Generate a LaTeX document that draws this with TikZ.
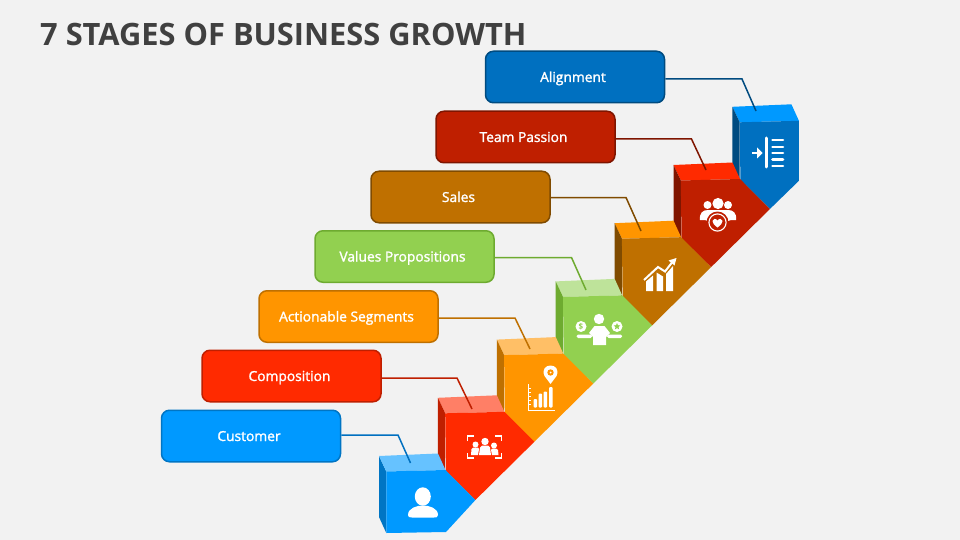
\documentclass[tikz,border=0pt]{standalone}
\usepackage{fontspec}
\setmainfont{Open Sans}
\newfontfamily\labelfont[FakeBold=1.6]{Open Sans}
\usetikzlibrary{shapes.geometric}
\definecolor{bgc}{HTML}{F2F2F2}
\definecolor{titlec}{HTML}{404040}
\definecolor{fa}{HTML}{0099FF}\definecolor{ta}{HTML}{66C2FF}\definecolor{sa}{HTML}{0075C4}
\definecolor{fb}{HTML}{FF2A00}\definecolor{tb}{HTML}{FF7F66}\definecolor{sb}{HTML}{BF1F00}
\definecolor{fc}{HTML}{FF9500}\definecolor{tc}{HTML}{FFBF66}\definecolor{sc}{HTML}{BF7000}
\definecolor{fd}{HTML}{92D050}\definecolor{td}{HTML}{BEE39A}\definecolor{sd}{HTML}{6EAB30}
\definecolor{fe}{HTML}{BF7000}\definecolor{te}{HTML}{FF9500}\definecolor{se}{HTML}{804B00}
\definecolor{ff}{HTML}{BF1F00}\definecolor{tf}{HTML}{FF2A00}\definecolor{sf}{HTML}{7F1500}
\definecolor{fg}{HTML}{0070C0}\definecolor{tg}{HTML}{0099FF}\definecolor{sg}{HTML}{004B80}
\tikzset{
  label box/.style={draw=#1,line width=1.5pt,rounded corners=8pt,minimum width=179pt,minimum height=51.5pt,
    inner sep=0pt,text=white,font=\fontsize{13.8}{16}\selectfont\labelfont,anchor=center,
    text height=10pt,text depth=0pt,execute at end node={\hspace{4pt}}},
  leader/.style={draw=#1,line width=1.5pt},
  ico/.style={fill=white,draw=none},
  icoline/.style={draw=white,line width=#1}
}
\newcommand{\stepblock}[5]{%
  \begin{scope}[shift={({#1*58.9pt},{#1*58.2pt})}]
    \fill[#3] (379,456) -- (438,453.5) -- (445.5,470) -- (386.3,471.5) -- cycle;
    \fill[#4] (379,456) -- (386.3,471.5) -- (386.3,529.5) -- (379,513.5) -- cycle;
    \fill[#2] #5 -- cycle;
  \end{scope}}
\begin{document}
\begin{tikzpicture}[x=1pt,y=-1pt]
\useasboundingbox (0,0) rectangle (960,540);
\fill[bgc] (0,0) rectangle (960,540);
\node[anchor=west,inner sep=0pt,text=titlec,font=\fontsize{30.8}{36}\selectfont\bfseries] (title) at (40,34.5) {7 STAGES OF BUSINESS GROWTH};

% steps
\stepblock{6}{fg}{tg}{sg}{(386.3,471.5) -- (445.5,470) -- (445.5,530) -- (416.5,558.2) -- (387,529.2)}
\stepblock{5}{ff}{tf}{sf}{(386.3,471.5) -- (445.5,470) -- (475.4,500) -- (416.5,558.2) -- (387,529.2)}
\stepblock{4}{fe}{te}{se}{(386.3,471.5) -- (445.5,470) -- (475.4,500) -- (416.5,558.2) -- (387,529.2)}
\stepblock{3}{fd}{td}{sd}{(386.3,471.5) -- (445.5,470) -- (475.4,500) -- (416.5,558.2) -- (387,529.2)}
\stepblock{2}{fc}{tc}{sc}{(386.3,471.5) -- (445.5,470) -- (475.4,500) -- (416.5,558.2) -- (387,529.2)}
\stepblock{1}{fb}{tb}{sb}{(386.3,471.5) -- (445.5,470) -- (475.4,500) -- (416.5,558.2) -- (387,529.2)}
\fill[sa] (379,456) -- (386.3,471.5) -- (386.3,533) -- (379,517) -- cycle;
\fill[ta] (379,456) -- (438,453.5) -- (445.5,470) -- (386.3,471.5) -- cycle;
\fill[fa] (386.3,471.5) -- (445.5,470) -- (475.4,500) -- (446,532) -- (386.3,533) -- cycle;

% boxes
\node[label box=sa,fill=fa] (customer) at (251,436) {Customer};
\node[label box=sb,fill=fb] (composition) at (291.5,376) {Composition};
\node[label box=sc,fill=fc] (actionable) at (348.5,316.5) {Actionable Segments};
\node[label box=sd,fill=fd] (values) at (404.5,256.5) {Values Propositions};
\node[label box=se,fill=fe] (sales) at (460.5,197) {Sales};
\node[label box=sf,fill=ff] (team) at (525.5,137) {Team Passion};
\node[label box=sg,fill=fg] (alignment) at (575,77) {Alignment};

% leader ends
\coordinate (e1) at (410.5,463); \coordinate (k1) at (398,435);
\coordinate (e2) at (472,409);   \coordinate (k2) at (457,378);
\coordinate (e3) at (530,349);   \coordinate (k3) at (515,318);
\coordinate (e4) at (586,290);   \coordinate (k4) at (571.5,257.5);
\coordinate (e5) at (641,231);   \coordinate (k5) at (626,197.5);
\coordinate (e6) at (706,170);   \coordinate (k6) at (691.5,139);
\coordinate (e7) at (756,111);   \coordinate (k7) at (742,79);
\draw[leader=fg] (customer.east |- k1) -- (k1) -- (e1);
\draw[leader=sb] (composition.east |- k2) -- (k2) -- (e2);
\draw[leader=sc] (actionable.east |- k3) -- (k3) -- (e3);
\draw[leader=sd] (values.east |- k4) -- (k4) -- (e4);
\draw[leader=se] (sales.east |- k5) -- (k5) -- (e5);
\draw[leader=sf] (team.east |- k6) -- (k6) -- (e6);
\draw[leader=sg] (alignment.east |- k7) -- (k7) -- (e7);

% icon 1: person
\fill[ico] (422.8,496.5) ellipse (8 and 9.2);
\fill[ico] (408,515) .. controls (408,508) and (417,505.5) .. (423,505.5) .. controls (429,505.5) and (438,508) .. (438,515) .. controls (438,517.5) and (436,517.5) .. (434,517.5) -- (412,517.5) .. controls (409,517.5) and (408,517) .. (408,515) -- cycle;

% icon 2: group in brackets
\draw[icoline=1.5pt] (467.5,441) -- (467.5,436) -- (474,436);
\draw[icoline=1.5pt] (495,436) -- (501.5,436) -- (501.5,441);
\draw[icoline=1.5pt] (467.5,453) -- (467.5,458) -- (474,458);
\draw[icoline=1.5pt] (495,458) -- (501.5,458) -- (501.5,453);
\fill[ico] (485,441.5) circle (3.7);
\fill[ico] (475.5,444.5) circle (3);
\fill[ico] (494,445.5) circle (3);
\fill[ico] (479,455) -- (480,447.5) -- (482,445.5) -- (488,445.5) -- (490,447.5) -- (491,455) -- cycle;
\fill[ico] (471,455) -- (471.5,449) -- (473,447.5) -- (478,447.5) -- (479,449) -- (478,455) -- cycle;
\fill[ico] (492,455) -- (491,450) -- (492,448.5) -- (496,448.5) -- (498,450) -- (498.5,455) -- cycle;

% icon 3: chart with pin
\draw[icoline=1.2pt] (528.5,384) -- (528.5,410.5) -- (555,410.5);
\foreach \ya in {388,392,396,400,404}{\draw[icoline=.9pt] (528.5,\ya) -- (531,\ya);}
\foreach \xa/\xb/\ya in {533.5/537/399,538.5/542/393.5,543.5/547/391.5,549/552.5/387}{
  \fill[ico,rounded corners=1pt] (\xa,407.5) rectangle (\xb,\ya);}
\fill[ico] (550.5,384) -- (544.5,376) .. controls (541.5,369) and (546,365.5) .. (550.5,365.5) .. controls (555,365.5) and (559.5,369) .. (556.5,376) -- cycle;
\fill[fc] (550.5,372.5) circle (3.2);
\fill[ico] (550.5,372.5) circle (1);

% icon 4: balance person
\fill[ico] (599,319) circle (5.2);
\fill[ico] (593,345) -- (606,345) -- (606,337) -- (610,333) -- (604.5,326) -- (594.5,326) -- (589,333) -- (593,337) -- cycle;
\fill[ico,rounded corners=1.5pt] (576.5,334.5) rectangle (592,338);
\fill[ico,rounded corners=1.5pt] (607,334.5) rectangle (622,338);
\fill[ico] (581,326.5) circle (5.5);
\fill[ico] (617,326.5) circle (5.5);
\node[inner sep=0pt,text=fd,font=\fontsize{8}{8}\selectfont\bfseries] (dollar) at (581,326.5) {\$};
\node[star,star points=5,star point ratio=2.2,fill=fd,inner sep=0pt,minimum size=7pt] (starmark) at (617,326.5) {};

% icon 5: growth chart
\fill[ico] (646,281.5) -- (653,275.5) -- (653,291) -- (646,291) -- cycle;
\fill[ico] (656.5,272.5) -- (663,276.5) -- (663,291) -- (656.5,291) -- cycle;
\fill[ico] (666,274) -- (673,266) -- (673,291) -- (666,291) -- cycle;
\draw[icoline=2pt] (644,280) -- (658,267) -- (665,271.5) -- (672,262.5);
\fill[ico] (676.5,258) -- (668.5,260.5) -- (674.5,265.5) -- cycle;

% icon 6: team with heart
\fill[ico] (718,203.5) circle (5.6);
\fill[ico] (707.5,205) circle (4);
\fill[ico] (728,205) circle (4);
\fill[ico] (700,220) .. controls (699,213) and (703,210) .. (708,210) -- (728,210) .. controls (733,210) and (737,213) .. (736,220) -- (731,220) -- (725,222) -- (710,222) -- (705,220) -- cycle;
\fill[ico] (710,212) -- (726,212) -- (727,217) -- (709,217) -- cycle;
\fill[ff] (717.5,222.5) circle (11);
\draw[icoline=1.1pt] (717.5,222.5) circle (8.6);
\fill[ico] (717.5,227.5) .. controls (714,225) and (712.5,223) .. (712.5,221) .. controls (712.5,218.5) and (716,218) .. (717.5,220.5) .. controls (719,218) and (722.5,218.5) .. (722.5,221) .. controls (722.5,223) and (721,225) .. (717.5,227.5) -- cycle;

% icon 7: align
\draw[icoline=3pt,line cap=round] (766,138) -- (766,167);
\foreach \ya in {140,147,153,159.5,166}{\draw[icoline=2.6pt,line cap=round] (772.5,\ya) -- (783,\ya);}
\draw[icoline=2.4pt] (752,153) -- (758,153);
\fill[ico] (762.5,153) -- (757,147.5) -- (757,158.5) -- cycle;
\end{tikzpicture}
\end{document}
